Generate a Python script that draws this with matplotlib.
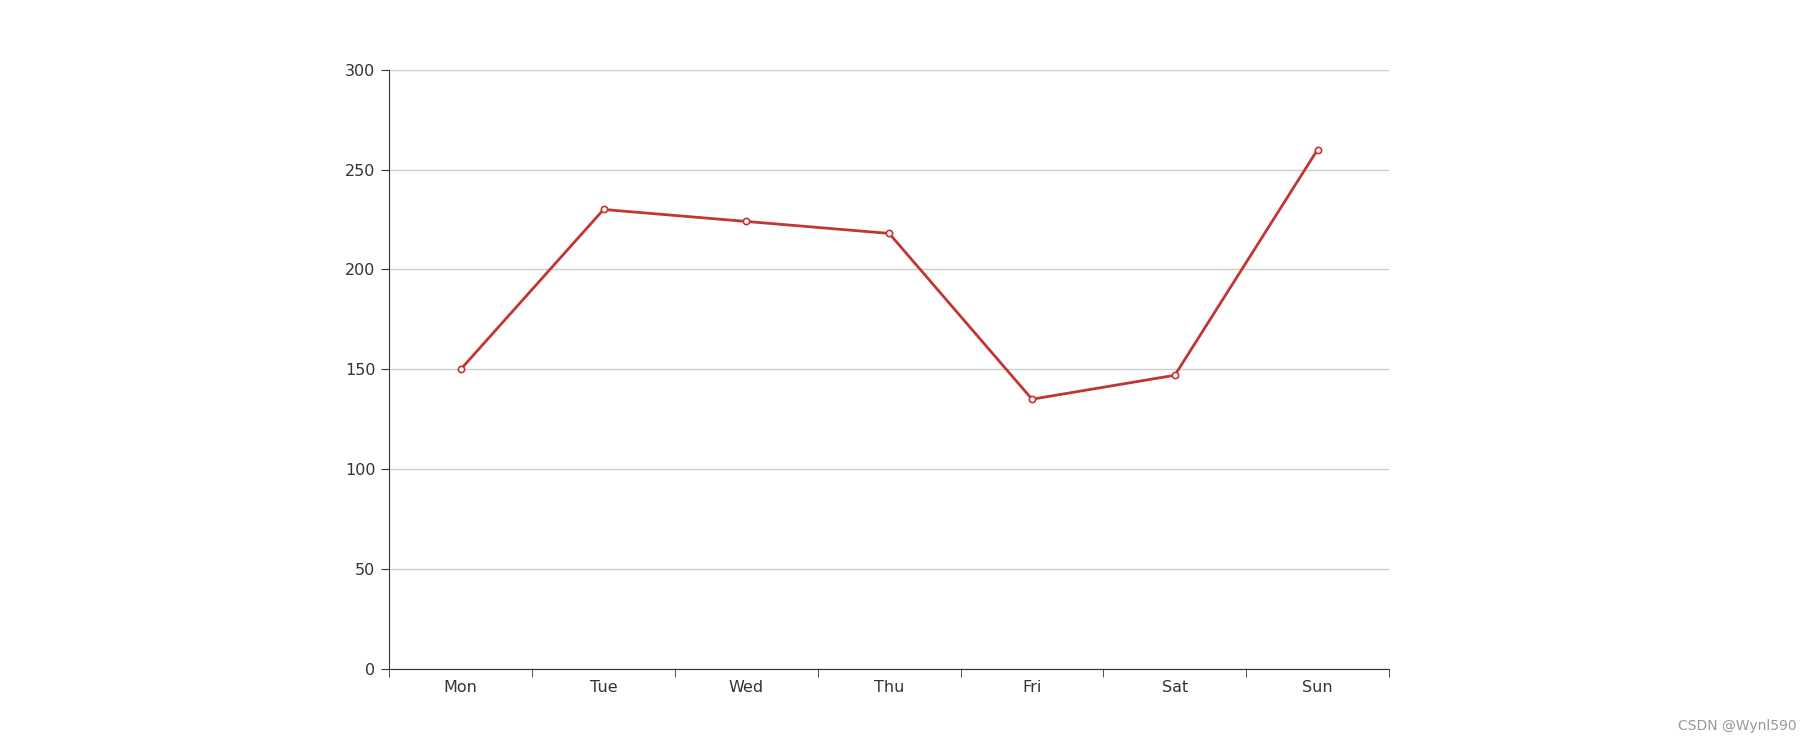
import matplotlib.pyplot as plt
import numpy as np

days = ["Mon", "Tue", "Wed", "Thu", "Fri", "Sat", "Sun"]
values = [150, 230, 224, 218, 135, 147, 260]
y_ticks = [0, 50, 100, 150, 200, 250, 300]

fig = plt.figure(figsize=(18.11, 7.49), dpi=100)
ax = fig.add_axes([0.215, 0.107, 0.552, 0.800])

x = np.arange(len(days))
ax.plot(x, values, color="#c23531", lw=2, marker="o", ms=4.5,
        mfc="white", mec="#c23531", mew=1.2, zorder=3)

ax.set_xlim(-0.5, len(days) - 0.5)
ax.set_ylim(0, 300)
ax.set_yticks(y_ticks)
ax.yaxis.grid(True, color="#cccccc", lw=1)
ax.set_axisbelow(True)

# category axis: ticks on boundaries, labels centred
ax.set_xticks(x)
ax.set_xticklabels(days)
ax.tick_params(axis="x", length=0, pad=8, labelsize=11.5, labelcolor="#333333")
ax.set_xticks(np.arange(-0.5, len(days)), minor=True)
ax.tick_params(axis="x", which="minor", length=6, color="#333333")
ax.tick_params(axis="y", length=6, color="#333333", labelsize=11.5,
               labelcolor="#333333", pad=4)

for s in ["top", "right"]:
    ax.spines[s].set_visible(False)
for s in ["left", "bottom"]:
    ax.spines[s].set_color("#333333")

fig.text(0.992, 0.022, "CSDN @Wynl590", ha="right", va="bottom",
         fontsize=10, color="#999999")

fig.savefig("out.png", dpi=100)
